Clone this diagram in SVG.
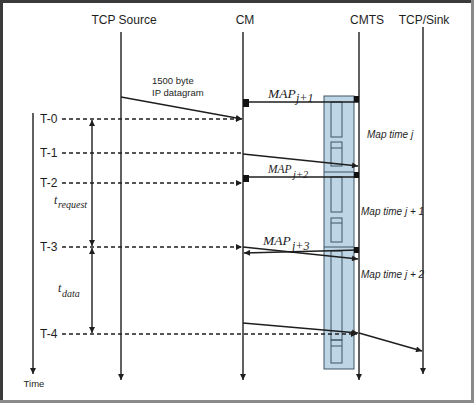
<svg xmlns="http://www.w3.org/2000/svg" width="474" height="403" viewBox="0 0 474 403">
<style>
.ln{stroke:#1e1e1e;stroke-width:1.4;fill:none}
.ds{stroke:#1e1e1e;stroke-width:1.4;fill:none;stroke-dasharray:4,3}
.lab{font-family:"Liberation Sans",Arial,sans-serif;font-size:12px;fill:#1e1e1e}
.sm{font-family:"Liberation Sans",Arial,sans-serif;font-size:9.5px;fill:#1e1e1e}
.mt{font-family:"Liberation Sans",Arial,sans-serif;font-size:10px;font-style:italic;fill:#1e1e1e}
.ser{font-family:"Liberation Serif","Times New Roman",serif;font-style:italic;fill:#1e1e1e}
.col{fill:#bdd5e4;stroke:#3f5566;stroke-width:1}
.inr{fill:none;stroke:#3f5566;stroke-width:1}
.sq{fill:#111}
</style>
<defs>
<marker id="ah" viewBox="0 0 10 10" refX="10" refY="5" markerWidth="8" markerHeight="6" orient="auto-start-reverse" markerUnits="userSpaceOnUse">
<path d="M0,0 L10,5 L0,10 z" fill="#1e1e1e"/>
</marker>
</defs>
<rect x="0" y="0" width="474" height="403" fill="#ffffff"/>
<rect x="0" y="0" width="474" height="3" fill="#3a3a3a"/>
<rect x="0" y="0" width="3" height="403" fill="#3a3a3a"/>
<rect x="471" y="0" width="3" height="403" fill="#8a8a8a"/>
<rect x="0" y="400" width="474" height="3" fill="#8a8a8a"/>

<g id="column">
<rect class="col" x="324" y="96" width="30" height="273"/>
<line class="inr" x1="324" y1="172" x2="354" y2="172"/>
<line class="inr" x1="324" y1="247" x2="354" y2="247"/>
<rect class="inr" x="331" y="102" width="11" height="35"/>
<rect class="inr" x="331" y="142" width="11" height="24"/>
<line class="inr" x1="331" y1="148" x2="342" y2="148"/>
<rect class="inr" x="331" y="177" width="11" height="35"/>
<rect class="inr" x="331" y="218" width="11" height="24"/>
<line class="inr" x1="331" y1="223" x2="342" y2="223"/>
<rect class="inr" x="331" y="251" width="11" height="89"/>
<rect class="inr" x="331" y="340" width="11" height="23"/>
<line class="inr" x1="331" y1="346" x2="342" y2="346"/>
</g>

<g id="tcp-source">
<text class="lab" x="124" y="24" text-anchor="middle">TCP Source</text>
<line class="ln" x1="121" y1="32" x2="121" y2="380" marker-end="url(#ah)"/>
</g>
<g id="cm">
<text class="lab" x="245" y="24" text-anchor="middle">CM</text>
<line class="ln" x1="243" y1="32" x2="243" y2="380" marker-end="url(#ah)"/>
</g>
<g id="cmts">
<text class="lab" x="367" y="24" text-anchor="middle">CMTS</text>
<line class="ln" x1="359" y1="32" x2="359" y2="380" marker-end="url(#ah)"/>
</g>
<g id="tcp-sink">
<text class="lab" x="424" y="24" text-anchor="middle">TCP/Sink</text>
<line class="ln" x1="423" y1="27" x2="423" y2="374" marker-end="url(#ah)"/>
</g>
<g id="time">
<line class="ln" x1="33" y1="113" x2="33" y2="374" marker-end="url(#ah)"/>
<text class="sm" x="34" y="387" text-anchor="middle">Time</text>
</g>

<g id="time-labels">
<text class="lab" x="40" y="123">T-0</text>
<text class="lab" x="40" y="157">T-1</text>
<text class="lab" x="40" y="187">T-2</text>
<text class="lab" x="40" y="251">T-3</text>
<text class="lab" x="40" y="338">T-4</text>
<text class="ser" x="54" y="204" font-size="12">t</text>
<text class="ser" x="58" y="208" font-size="10">request</text>
<text class="ser" x="58" y="292" font-size="12">t</text>
<text class="ser" x="62" y="297" font-size="10">data</text>
<text class="sm" x="152" y="84">1500 byte</text>
<text class="sm" x="152" y="96">IP datagram</text>
<text class="mt" x="367" y="138">Map time j</text>
<text class="mt" x="361" y="215">Map time  j + 1</text>
<text class="mt" x="361" y="278">Map time j + 2</text>
<text class="ser" x="268" y="98" font-size="13.5">MAP</text>
<text class="ser" x="296" y="102" font-size="12">j+1</text>
<text class="ser" x="268" y="173" font-size="11.5">MAP</text>
<text class="ser" x="293" y="178" font-size="10.5">j+2</text>
<text class="ser" x="263" y="245" font-size="13.5">MAP</text>
<text class="ser" x="292" y="250" font-size="12">j+3</text>
</g>

<g id="connectors">
<line class="ln" x1="121" y1="97" x2="242" y2="119" marker-end="url(#ah)"/>
<line class="ds" x1="62" y1="119" x2="242" y2="119" marker-end="url(#ah)"/>
<line class="ds" x1="62" y1="153" x2="243" y2="153"/>
<line class="ln" x1="243" y1="154" x2="358" y2="166" marker-end="url(#ah)"/>
<line class="ds" x1="62" y1="183" x2="242" y2="183" marker-end="url(#ah)"/>
<line class="ds" x1="62" y1="247" x2="242" y2="247" marker-end="url(#ah)"/>
<line class="ln" x1="243" y1="247" x2="358" y2="259" marker-end="url(#ah)"/>
<line class="ln" x1="359" y1="250" x2="244" y2="253" marker-end="url(#ah)"/>
<line class="ds" x1="62" y1="334" x2="357" y2="334" marker-end="url(#ah)"/>
<line class="ln" x1="243" y1="323" x2="358" y2="333" marker-end="url(#ah)"/>
<line class="ln" x1="359" y1="333" x2="422" y2="351" marker-end="url(#ah)"/>
<line class="ln" x1="359" y1="102" x2="249" y2="102"/>
<rect class="sq" x="243" y="99" width="6" height="8"/>
<rect class="sq" x="354" y="96" width="5" height="6"/>
<line class="ln" x1="359" y1="177" x2="249" y2="177"/>
<rect class="sq" x="243" y="175" width="6" height="7"/>
<rect class="sq" x="354" y="172" width="5" height="6"/>
<rect class="sq" x="354" y="247" width="5" height="6"/>
<line class="ln" x1="92" y1="120" x2="92" y2="246" marker-start="url(#ah)" marker-end="url(#ah)"/>
<line class="ln" x1="92" y1="248" x2="92" y2="333" marker-start="url(#ah)" marker-end="url(#ah)"/>
</g>
</svg>
